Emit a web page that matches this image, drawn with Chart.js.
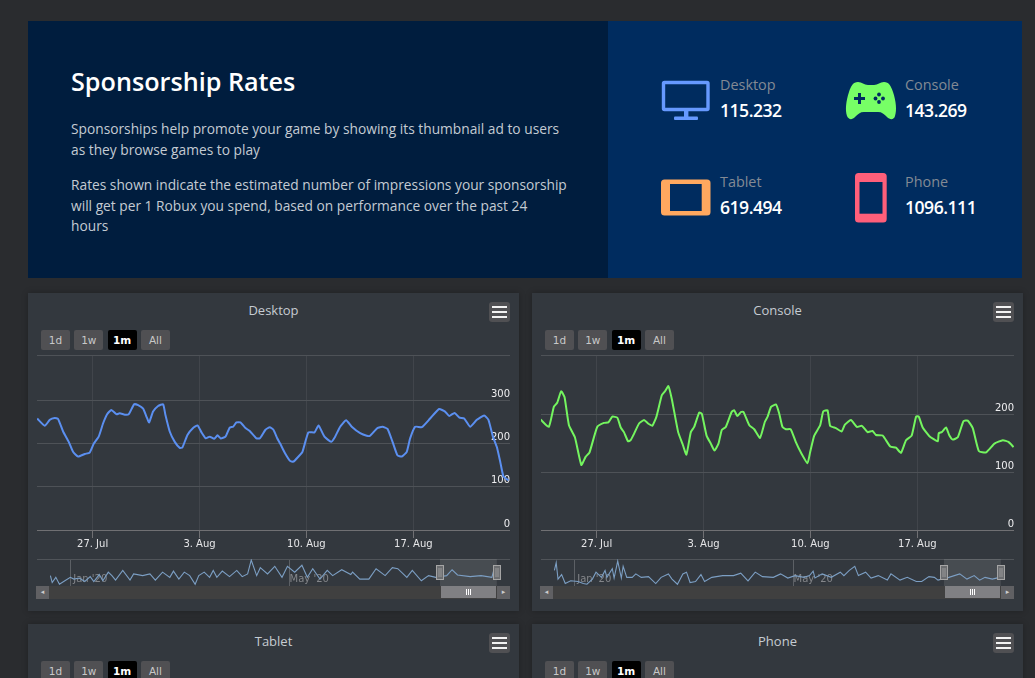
<!DOCTYPE html>
<html>
<head>
<meta charset="utf-8">
<title>Sponsorship Rates</title>
<script src="https://cdn.jsdelivr.net/npm/chart.js@4"></script>
<style>
  html, body { margin:0; padding:0; width:1035px; height:678px; overflow:hidden; background:#2a2c2f; font-family:"Open Sans", sans-serif; }
  .abs, .panel, .btn, .menu, canvas { position:absolute; }
  #hero-left { left:28px; top:21px; width:580px; height:257px; background:#001d3e; }
  #hero-right { left:608px; top:21px; width:414px; height:257px; background:#002c5f; }
  h1 { position:absolute; left:71px; top:64px; margin:0; font-size:25.2px; line-height:34px; font-weight:600; color:#fff; white-space:nowrap; }
  .para { position:absolute; left:71px; width:500px; font-size:13.76px; line-height:20.7px; font-weight:500; color:#c4cbd3; white-space:nowrap; }
  .dev { position:absolute; font-size:14.4px; color:#838a94; line-height:20px; }
  .rate { position:absolute; font-size:17.6px; font-weight:600; letter-spacing:-.5px; color:#fff; line-height:24px; }
  .panel { width:491px; background:#33383e; box-shadow:0 0 6px rgba(0,0,0,.25); }
  .title { position:absolute; width:491px; text-align:center; font-size:13px; line-height:18px; color:#c6ccd2; }
  .btn { width:29px; height:20px; border-radius:2px; background:#505053; color:#c8c8c8; font:10.5px/20px "DejaVu Sans", sans-serif; text-align:center; }
  .btn.on { background:#000; color:#fff; font-weight:bold; }
  .menu { width:21px; height:20px; border-radius:3px; background:#505053; }
  .menu i { position:absolute; left:3px; width:15px; height:2.4px; background:#f2f2f2; }
  .track { position:absolute; height:13px; background:#404040; }
  .sbtn { position:absolute; width:13px; height:13px; background:#606063; color:#ccc; font:7px/13px "DejaVu Sans", sans-serif; text-align:center; }
  .thumb { position:absolute; width:55px; height:12px; background:#808083; }
  .thumb i { position:absolute; top:3px; width:1px; height:6px; background:#fff; }
</style>
</head>
<body>
<div class="abs" id="hero-left"></div>
<div class="abs" id="hero-right"></div>
<h1>Sponsorship Rates</h1>
<div class="para" style="top:119px">Sponsorships help promote your game by showing its thumbnail ad to users<br>as they browse games to play</div>
<div class="para" style="top:175px">Rates shown indicate the estimated number of impressions your sponsorship<br>will get per 1 Robux you spend, based on performance over the past 24<br>hours</div>

<svg class="abs" style="left:0;top:0" width="1035" height="278">
  <rect x="663.5" y="82.5" width="44.5" height="27" fill="none" stroke="#6699ff" stroke-width="3.4" rx="1"/>
  <rect x="684" y="110" width="4.4" height="7" fill="#6699ff"/>
  <rect x="674" y="116.5" width="24" height="3.6" rx="1" fill="#6699ff"/>
  <path d="M858 82 C853 82 851 86 849 92 C846 101 845 110 847 116 C849 120 852 120 855 117 C858 114 860 112 864 112 L878 112 C882 112 884 114 887 117 C890 120 894 120 895 116 C897 110 896 101 893 92 C891 86 889 82 884 82 C880 82 878 85 874 85 L868 85 C864 85 862 82 858 82 Z" fill="#77ff66"/>
  <path d="M858 93 h3 v4 h4 v3 h-4 v4 h-3 v-4 h-4 v-3 h4 Z" fill="#002c5f"/>
  <circle cx="879" cy="94.5" r="1.9" fill="#002c5f"/><circle cx="879" cy="102" r="1.9" fill="#002c5f"/>
  <circle cx="875.5" cy="98.5" r="1.9" fill="#002c5f"/><circle cx="883" cy="98.5" r="1.9" fill="#002c5f"/>
  <rect x="661" y="179.5" width="49.5" height="36" rx="3.5" fill="#ffa85f"/>
  <rect x="670" y="184" width="31.7" height="27" fill="#002c5f"/>
  <rect x="855" y="173" width="31.7" height="49.5" rx="3.5" fill="#ff5f7a"/>
  <rect x="859.5" y="182" width="23" height="31.7" fill="#002c5f"/>
</svg>
<div class="dev" style="left:720px;top:75px">Desktop</div><div class="rate" style="left:720px;top:98px">115.232</div>
<div class="dev" style="left:905px;top:75px">Console</div><div class="rate" style="left:905px;top:98px">143.269</div>
<div class="dev" style="left:720px;top:172px">Tablet</div><div class="rate" style="left:720px;top:195px">619.494</div>
<div class="dev" style="left:905px;top:172px">Phone</div><div class="rate" style="left:905px;top:195px">1096.111</div>

<div id="panels"></div>

<script>
// main chart: days after 27 Jul, rate
const desktopDays = [-3.63,-3.13,-2.8,-2.48,-2.26,-1.93,-1.56,-1.28,-0.95,-0.51,-0.19,0.08,0.4,0.69,0.95,1.23,1.56,1.78,2.11,2.37,2.72,2.98,3.31,3.53,3.7,3.96,4.29,4.62,4.77,5.05,5.38,5.71,5.88,6.21,6.58,6.87,7.13,7.41,7.67,7.96,8.18,8.39,8.7,8.98,9.2,9.42,9.68,10.01,10.29,10.73,10.95,11.32,11.6,11.84,12.08,12.28,12.61,12.93,13.15,13.48,13.74,14.13,14.53,14.79,15.18,15.62,15.88,16.21,16.6,16.97,17.52,17.95,18.17,18.65,18.98,19.31,19.64,19.96,20.25,20.57,20.79,21.12,21.56,22.1,22.69,23.08,23.35,23.7,24.02,24.33,24.72,25.16,25.64,25.92,26.21,26.47,26.69,26.9,27.23];
const desktopRates = [258,241,255,259,257,228,204,181,170,176,179,200,216,247,268,278,268,270,267,268,291,289,281,262,249,274,287,291,266,228,204,190,191,220,236,242,226,212,216,211,219,212,216,237,239,249,249,236,229,212,212,232,238,232,213,200,177,160,158,170,181,226,226,242,216,204,216,239,254,239,224,218,218,236,239,234,204,173,170,181,212,239,238,258,280,274,264,271,260,258,239,255,265,255,216,192,158,124,115];
const consoleDays = [-3.67,-3.13,-2.8,-2.58,-2.32,-2.1,-1.81,-1.42,-1,-0.72,-0.46,0.04,0.48,0.77,1.03,1.36,1.58,1.79,2.06,2.23,2.45,2.78,3.11,3.37,3.65,3.92,4.27,4.48,4.7,4.92,5.34,5.62,5.88,6.17,6.39,6.72,6.89,7.2,7.48,7.72,7.98,8.2,8.46,8.84,9.01,9.21,9.45,9.62,10,10.32,10.7,11.02,11.2,11.42,11.75,11.96,12.17,12.39,12.71,13.04,13.37,13.81,13.98,14.25,14.64,14.84,15.12,15.29,15.67,16.04,16.26,16.65,17.04,17.37,17.74,18.07,18.29,18.73,19.23,19.6,19.93,20.26,20.63,20.92,21.09,21.35,21.79,22.34,22.4,22.6,22.88,23.1,23.32,23.65,24.02,24.3,24.63,25.03,25.51,26.05,26.6,26.97,27.3];
const consoleRates = [192,179,214,221,241,231,182,161,113,127,135,179,186,187,197,195,178,170,154,156,167,185,191,185,181,197,234,241,250,228,170,150,131,170,179,204,202,164,150,138,150,174,179,205,208,198,205,205,182,175,160,188,197,214,218,202,179,175,175,153,135,116,135,164,182,206,208,181,177,171,183,191,179,181,170,172,165,164,145,143,134,156,164,197,197,178,163,154,168,170,178,164,157,161,189,190,177,137,135,150,156,153,144];

// navigator strip: days after 1 Jan
const desktopNavDays = [-11,-10,-8,-6,-3,0,2,5,8,11,13,16,18,21,23,25,29,33,35,40,44,47,51,55,57,60,63,66,69,71,74,77,79,81,84,88,92,95,98,100,103,105,109,113,117,120,124,128,131,134,138,142,145,150,155,156,160,165,169,174,178,181,186,189,194,198,202,208,211,214,221,227,233,234];
const desktopNavRates = [150,50,125,25,75,125,100,115,65,135,65,165,75,200,150,85,225,85,175,150,175,85,200,125,215,100,200,150,25,150,200,125,225,125,215,135,225,135,175,375,150,265,175,285,125,285,200,300,125,250,100,225,150,235,165,200,100,100,250,150,265,250,125,225,75,150,125,150,235,160,135,150,125,225];
const consoleNavDays = [-11,-10,-9,-7,-5,-2,2,5,7,10,12,15,17,18,21,22,24,26,27,29,32,34,37,41,45,48,52,54,57,60,62,64,67,70,72,76,82,88,92,96,100,104,110,114,118,122,127,130,132,133,137,142,147,149,152,155,157,161,164,168,173,175,180,184,189,192,196,199,201,207,213,217,221,224,227,231,235];
const consoleNavRates = [225,335,100,165,35,75,65,35,25,100,200,125,225,125,250,115,360,115,285,125,125,175,125,135,35,125,175,100,25,175,200,50,65,165,65,125,150,150,185,75,200,135,125,175,115,150,125,150,215,115,175,125,200,150,225,285,150,200,115,150,85,175,85,125,65,65,135,125,85,125,175,100,150,85,125,100,125];

const dayTicks = [0, 7, 14, 21];
const dayLabels = ['27. Jul', '3. Aug', '10. Aug', '17. Aug'];
const navTicks = [0, 121];
const navLabels = ["Jan '20", "May '20"];
const navSelected = [204.3, 235.7];
// the last tick is the unlabelled line along the top of the plot
const desktopTicks = [0, 100, 200, 300, 405];
const desktopTickLabels = ['0', '100', '200', '300', ''];
const consoleTicks = [0, 100, 200, 304];
const consoleTickLabels = ['0', '100', '200', ''];
const buttons = ['1d', '1w', '1m', 'All'];

const FONT = { family: '"DejaVu Sans", sans-serif', size: 10 };

function addPanel(x, y, h, title) {
  const host = document.getElementById('panels');
  let html = `<div class="panel" style="left:${x}px;top:${y}px;height:${h}px"></div>
    <div class="title" style="left:${x}px;top:${y + 8}px">${title}</div>
    <div class="menu" style="left:${x + 461}px;top:${y + 9}px"><i style="top:4px"></i><i style="top:9px"></i><i style="top:14px"></i></div>`;
  buttons.forEach((b, i) => {
    html += `<div class="btn ${b === '1m' ? 'on' : ''}" style="left:${x + 13 + i * 33.3}px;top:${y + 37}px">${b}</div>`;
  });
  host.insertAdjacentHTML('beforeend', html);
}

function addScrollbar(x) {
  const html = `<div class="track" style="left:${x + 8}px;top:586px;width:474px"></div>
    <div class="sbtn" style="left:${x + 8}px;top:586px">&#9666;</div>
    <div class="sbtn" style="left:${x + 469}px;top:586px">&#9656;</div>
    <div class="thumb" style="left:${x + 413}px;top:586px"><i style="left:25px"></i><i style="left:27px"></i><i style="left:29px"></i></div>`;
  document.getElementById('panels').insertAdjacentHTML('beforeend', html);
}

function addCanvas(id, x, y, w, h) {
  const c = document.createElement('canvas');
  c.id = id;
  c.width = w; c.height = h;
  c.style.cssText = `left:${x}px;top:${y}px;width:${w}px;height:${h}px`;
  document.body.appendChild(c);
  return c;
}

// tick labels must not push the plot area in from the canvas edges
function noMargins(s) {
  s.paddingTop = s.paddingBottom = s.paddingLeft = s.paddingRight = 0;
}

function mainChart(canvas, days, rates, color, ticks, labels) {
  return new Chart(canvas, {
    type: 'line',
    data: { labels: days, datasets: [{ data: days.map((d, i) => ({ x: d, y: rates[i] })),
      borderColor: color, borderWidth: 2, pointRadius: 0, tension: 0.15, fill: false, clip: false }] },
    options: {
      responsive: false, animation: false, parsing: false,
      layout: { padding: { top: 1 } },
      plugins: { legend: { display: false }, tooltip: { enabled: false } },
      scales: {
        x: { type: 'linear', min: -3.64, max: 27.33,
          afterBuildTicks: s => { s.ticks = dayTicks.map(v => ({ value: v })); },
          afterFit: s => { s.height = 23; noMargins(s); },
          border: { color: '#707073' },
          grid: { color: '#41454b', tickColor: '#707073', tickLength: 8 },
          ticks: { autoSkip: false, maxRotation: 0, padding: 0, color: '#e6e6e8', font: FONT,
            callback: v => dayLabels[dayTicks.indexOf(v)] } },
        y: { position: 'right', min: 0, max: ticks[ticks.length - 1],
          afterBuildTicks: s => { s.ticks = ticks.map(v => ({ value: v })); },
          afterFit: s => { s.width = 0; noMargins(s); },
          border: { display: false },
          grid: { color: '#4e5257', drawTicks: false },
          ticks: { mirror: true, padding: 0, labelOffset: -6, color: '#eeeef0', font: FONT,
            callback: v => labels[ticks.indexOf(v)] } }
      }
    }
  });
}

// shaded range and the two drag handles of the navigator
const navMask = {
  id: 'navMask',
  beforeDatasetsDraw(chart) {
    const { ctx, chartArea: a, scales: { x } } = chart;
    const l = x.getPixelForValue(navSelected[0]), r = x.getPixelForValue(navSelected[1]);
    ctx.save();
    ctx.fillStyle = 'rgba(255,255,255,.1)';
    ctx.fillRect(l, a.top, r - l, a.bottom - a.top);
    ctx.restore();
  },
  afterDraw(chart) {
    const { ctx, scales: { x } } = chart;
    ctx.save();
    navSelected.forEach(v => {
      const px = Math.round(x.getPixelForValue(v));
      ctx.fillStyle = '#6b6d70';
      ctx.strokeStyle = '#a5a5a5';
      ctx.fillRect(px - 3.5, 7.5, 7, 14);
      ctx.strokeRect(px - 3.5, 7.5, 7, 14);
      ctx.strokeStyle = '#9a9a9a';
      ctx.beginPath();
      ctx.moveTo(px - 1, 10); ctx.lineTo(px - 1, 19);
      ctx.moveTo(px + 1, 10); ctx.lineTo(px + 1, 19);
      ctx.stroke();
    });
    ctx.restore();
  }
};

function navChart(canvas, days, rates) {
  return new Chart(canvas, {
    type: 'line',
    data: { labels: days, datasets: [{ data: days.map((d, i) => ({ x: d, y: rates[i] })),
      borderColor: '#7c9fc4', borderWidth: 1.1, pointRadius: 0, tension: 0, fill: false }] },
    plugins: [navMask],
    options: {
      responsive: false, animation: false, parsing: false,
      layout: { padding: { top: 1 } },
      plugins: { legend: { display: false }, tooltip: { enabled: false } },
      scales: {
        x: { type: 'linear', min: -18.4, max: 243,
          afterBuildTicks: s => { s.ticks = navTicks.map(v => ({ value: v })); },
          afterFit: s => { s.height = 0; noMargins(s); },
          border: { display: false },
          grid: { color: '#5c6065', drawTicks: false },
          ticks: { autoSkip: false, maxRotation: 0, mirror: true, padding: 1, labelOffset: 20,
            color: '#84868a', font: { family: '"DejaVu Sans", sans-serif', size: 10 },
            callback: v => navLabels[navTicks.indexOf(v)] } },
        y: { min: 0, max: 390,
          afterBuildTicks: s => { s.ticks = [{ value: 390 }]; },
          afterFit: s => { s.width = 0; noMargins(s); },
          border: { display: false },
          grid: { color: '#505459', drawTicks: false },
          ticks: { display: false } }
      }
    }
  });
}

addPanel(28, 293, 318, 'Desktop');
addPanel(532, 293, 318, 'Console');
addPanel(28, 624, 200, 'Tablet');
addPanel(532, 624, 200, 'Phone');
addScrollbar(28);
addScrollbar(532);

mainChart(addCanvas('desktop', 37, 354, 473, 199), desktopDays, desktopRates, '#5b8ff0', desktopTicks, desktopTickLabels);
mainChart(addCanvas('console', 541, 354, 473, 199), consoleDays, consoleRates, '#74f55f', consoleTicks, consoleTickLabels);
navChart(addCanvas('desktopNav', 37, 558, 473, 28), desktopNavDays, desktopNavRates);
navChart(addCanvas('consoleNav', 541, 558, 473, 28), consoleNavDays, consoleNavRates);
</script>
</body>
</html>
